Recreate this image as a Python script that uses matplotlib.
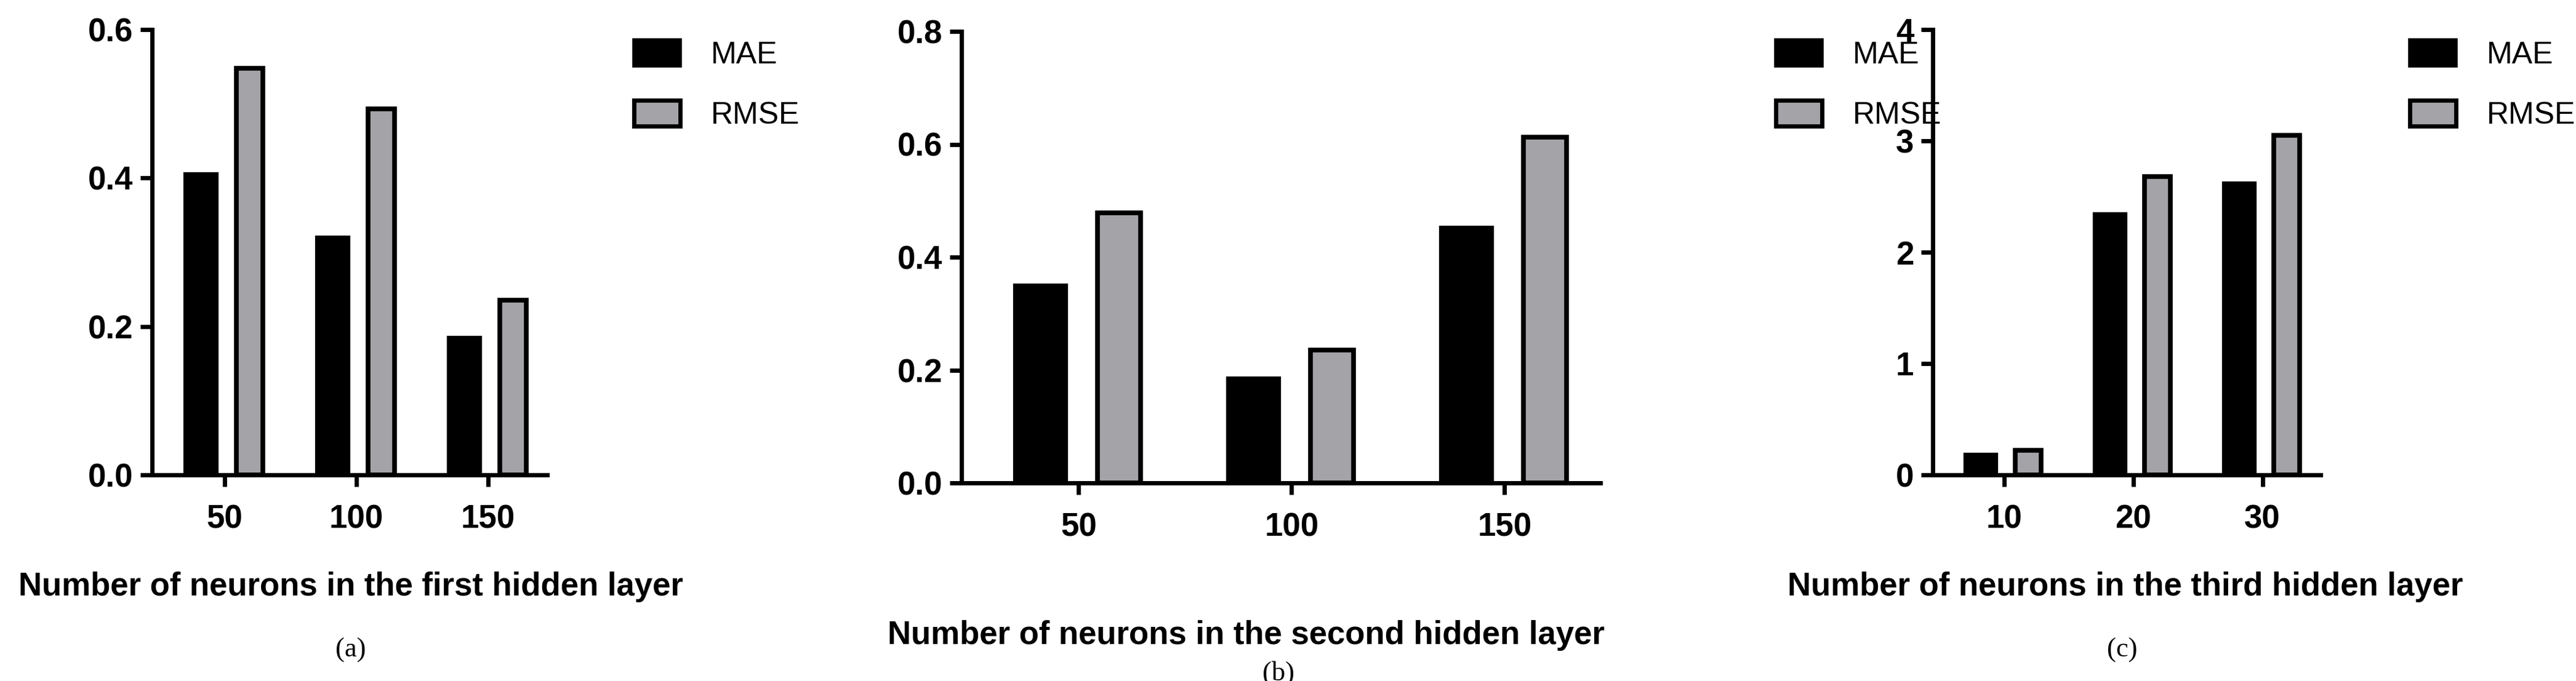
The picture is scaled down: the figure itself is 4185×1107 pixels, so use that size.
import matplotlib
matplotlib.use("Agg")
import matplotlib.pyplot as plt
from matplotlib.patches import Patch
import numpy as np

plt.rcParams['font.family'] = ['Liberation Sans Narrow', 'Liberation Sans', 'DejaVu Sans']

# data
cats_a = ["50", "100", "150"]
mae_a = [0.405, 0.320, 0.185]
rmse_a = [0.548, 0.493, 0.235]

cats_b = ["50", "100", "150"]
mae_b = [0.350, 0.185, 0.452]
rmse_b = [0.478, 0.235, 0.612]

cats_c = ["10", "20", "30"]
mae_c = [0.18, 2.34, 2.62]
rmse_c = [0.22, 2.68, 3.05]

W, H = 4185, 1107
fig = plt.figure(figsize=(W / 100, H / 100), dpi=100)

panels = [
    dict(cats=cats_a, mae=mae_a, rmse=rmse_a, rect=(247, 48, 889, 772), ymax=0.6, yticks=[0.0, 0.2, 0.4, 0.6], fmt="%.1f",
         xlabel="Number of neurons in the first hidden layer", xl=(570, 954), cap="(a)", capxy=(570, 1057), leg=(1030, 65)),
    dict(cats=cats_b, mae=mae_b, rmse=rmse_b, rect=(1562, 51, 2600, 785), ymax=0.8, yticks=[0.0, 0.2, 0.4, 0.6, 0.8], fmt="%.1f",
         xlabel="Number of neurons in the second hidden layer", xl=(2024, 1033), cap="(b)", capxy=(2077, 1095), leg=(2885, 65)),
    dict(cats=cats_c, mae=mae_c, rmse=rmse_c, rect=(3140, 48, 3770, 772), ymax=4, yticks=[0, 1, 2, 3, 4], fmt="%d",
         xlabel="Number of neurons in the third hidden layer", xl=(3453, 954), cap="(c)", capxy=(3448, 1057), leg=(3915, 65)),
]

for p in panels:
    x0, y0, x1, y1 = p["rect"]
    ax = fig.add_axes([x0 / W, 1 - y1 / H, (x1 - x0) / W, (y1 - y0) / H])
    x = np.arange(len(p["cats"]))
    ax.bar(x - 0.18, p["mae"], width=0.24, color="black", edgecolor="black", linewidth=4.5)
    ax.bar(x + 0.19, p["rmse"], width=0.2, color="#a3a3a8", edgecolor="black", linewidth=5.5)
    ax.set_xlim(-0.55, 2.45)
    ax.set_ylim(0, p["ymax"])
    ax.set_yticks(p["yticks"])
    ax.yaxis.set_major_formatter(matplotlib.ticker.FormatStrFormatter(p["fmt"]))
    ax.set_xticks(x)
    ax.set_xticklabels(p["cats"])
    for s in ["top", "right"]:
        ax.spines[s].set_visible(False)
    for s in ["left", "bottom"]:
        ax.spines[s].set_linewidth(5)
    ax.tick_params(width=5, length=14, labelsize=38, pad=8)
    ax.tick_params(axis='x', pad=20)
    for lab in ax.get_xticklabels() + ax.get_yticklabels():
        lab.set_fontweight("bold")
    fig.text(p["xl"][0] / W, 1 - p["xl"][1] / H, p["xlabel"], ha="center", va="center",
             fontsize=38, fontweight="bold")
    fig.text(p["capxy"][0] / W, 1 - p["capxy"][1] / H, p["cap"], ha="center", va="center",
             fontsize=32, family=["Liberation Serif", "DejaVu Serif"])
    handles = [Patch(facecolor="black", edgecolor="black", linewidth=4, label="MAE"),
               Patch(facecolor="#a3a3a8", edgecolor="black", linewidth=5, label="RMSE")]
    fig.legend(handles=handles, loc="upper left", bbox_to_anchor=(p["leg"][0] / W, 1 - p["leg"][1] / H),
               frameon=False, fontsize=36, handlelength=1.5, handleheight=0.9, labelspacing=1.0, handletextpad=1.0,
               borderaxespad=0, borderpad=0)

fig.savefig("out.png", dpi=100)
